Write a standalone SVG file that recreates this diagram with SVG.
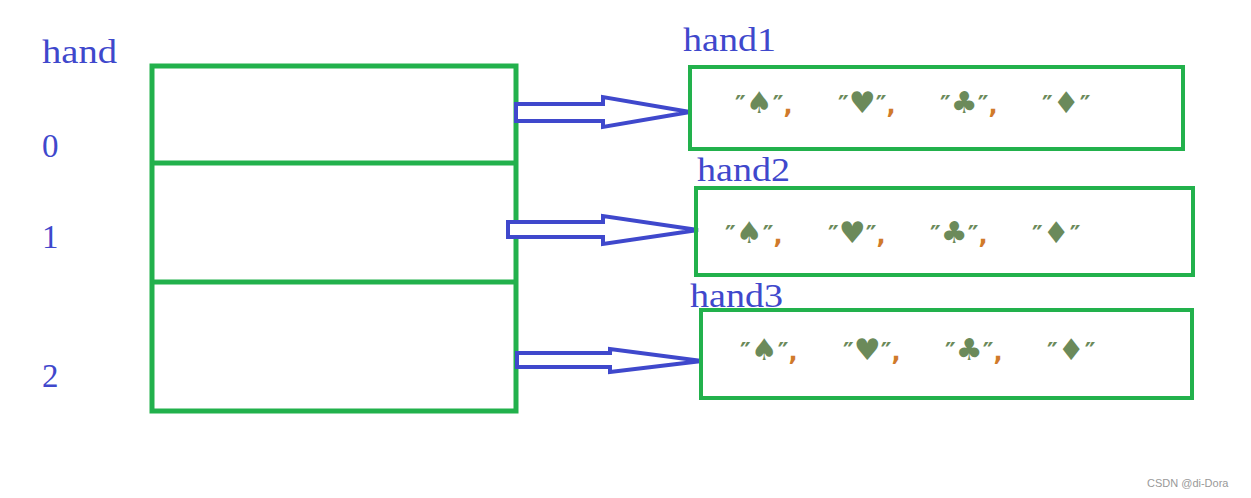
<svg xmlns="http://www.w3.org/2000/svg" width="1251" height="498" viewBox="0 0 1251 498">
<style>
.box{fill:none;stroke:#22b14c;stroke-width:4}
.big{fill:none;stroke:#22b14c;stroke-width:5}
.arr{fill:#fff;stroke:#3f48cc;stroke-width:4;stroke-linejoin:miter}
.lbl{font-family:"Liberation Serif",serif;font-size:33px;fill:#3f48cc}
.c{font-family:"DejaVu Sans",sans-serif;font-size:24px;fill:#6b8a5a;font-weight:bold}
.s{font-size:30px}
.cm{fill:#d07a2a}
.wm{font-family:"Liberation Sans",sans-serif;font-size:11px;fill:#999}
</style>
<rect width="1251" height="498" fill="#fff"/>
<g id="array">
<rect class="big" x="152" y="66" width="364" height="345"/>
<line class="big" x1="152" y1="163" x2="516" y2="163"/>
<line class="big" x1="152" y1="282" x2="516" y2="282"/>
<text class="lbl" x="42" y="63" textLength="75" lengthAdjust="spacingAndGlyphs">hand</text>
<text class="lbl" x="42" y="157">0</text>
<text class="lbl" x="42" y="248">1</text>
<text class="lbl" x="42" y="387">2</text>
</g>
<g id="connectors">
<polygon class="arr" points="516,104 603,104 603,97 690,112 603,127 603,121 516,121"/>
<polygon class="arr" points="508,222 603,222 603,216 698,230 603,244 603,237 508,237"/>
<polygon class="arr" points="517,353 610,353 610,349 702,361 610,372 610,367 517,367"/>
</g>
<g id="hand1">
<rect class="box" x="690" y="67" width="493" height="82"/>
<text class="lbl" x="683" y="51" textLength="93" lengthAdjust="spacingAndGlyphs">hand1</text>
<text class="c" y="113"><tspan x="735">″</tspan><tspan class="s">♠</tspan><tspan>″</tspan><tspan class="cm">,</tspan><tspan x="838">″</tspan><tspan class="s">♥</tspan><tspan>″</tspan><tspan class="cm">,</tspan><tspan x="940">″</tspan><tspan class="s">♣</tspan><tspan>″</tspan><tspan class="cm">,</tspan><tspan x="1042">″</tspan><tspan class="s">♦</tspan><tspan>″</tspan></text>
</g>
<g id="hand2">
<rect class="box" x="696" y="188" width="497" height="87"/>
<text class="lbl" x="697" y="181" textLength="93" lengthAdjust="spacingAndGlyphs">hand2</text>
<text class="c" y="243"><tspan x="725">″</tspan><tspan class="s">♠</tspan><tspan>″</tspan><tspan class="cm">,</tspan><tspan x="828">″</tspan><tspan class="s">♥</tspan><tspan>″</tspan><tspan class="cm">,</tspan><tspan x="930">″</tspan><tspan class="s">♣</tspan><tspan>″</tspan><tspan class="cm">,</tspan><tspan x="1032">″</tspan><tspan class="s">♦</tspan><tspan>″</tspan></text>
</g>
<g id="hand3">
<rect class="box" x="701" y="310" width="491" height="88"/>
<text class="lbl" x="690" y="307" textLength="93" lengthAdjust="spacingAndGlyphs">hand3</text>
<text class="c" y="360"><tspan x="740">″</tspan><tspan class="s">♠</tspan><tspan>″</tspan><tspan class="cm">,</tspan><tspan x="843">″</tspan><tspan class="s">♥</tspan><tspan>″</tspan><tspan class="cm">,</tspan><tspan x="945">″</tspan><tspan class="s">♣</tspan><tspan>″</tspan><tspan class="cm">,</tspan><tspan x="1047">″</tspan><tspan class="s">♦</tspan><tspan>″</tspan></text>
</g>
<text class="wm" x="1147" y="487">CSDN @di-Dora</text>
</svg>
